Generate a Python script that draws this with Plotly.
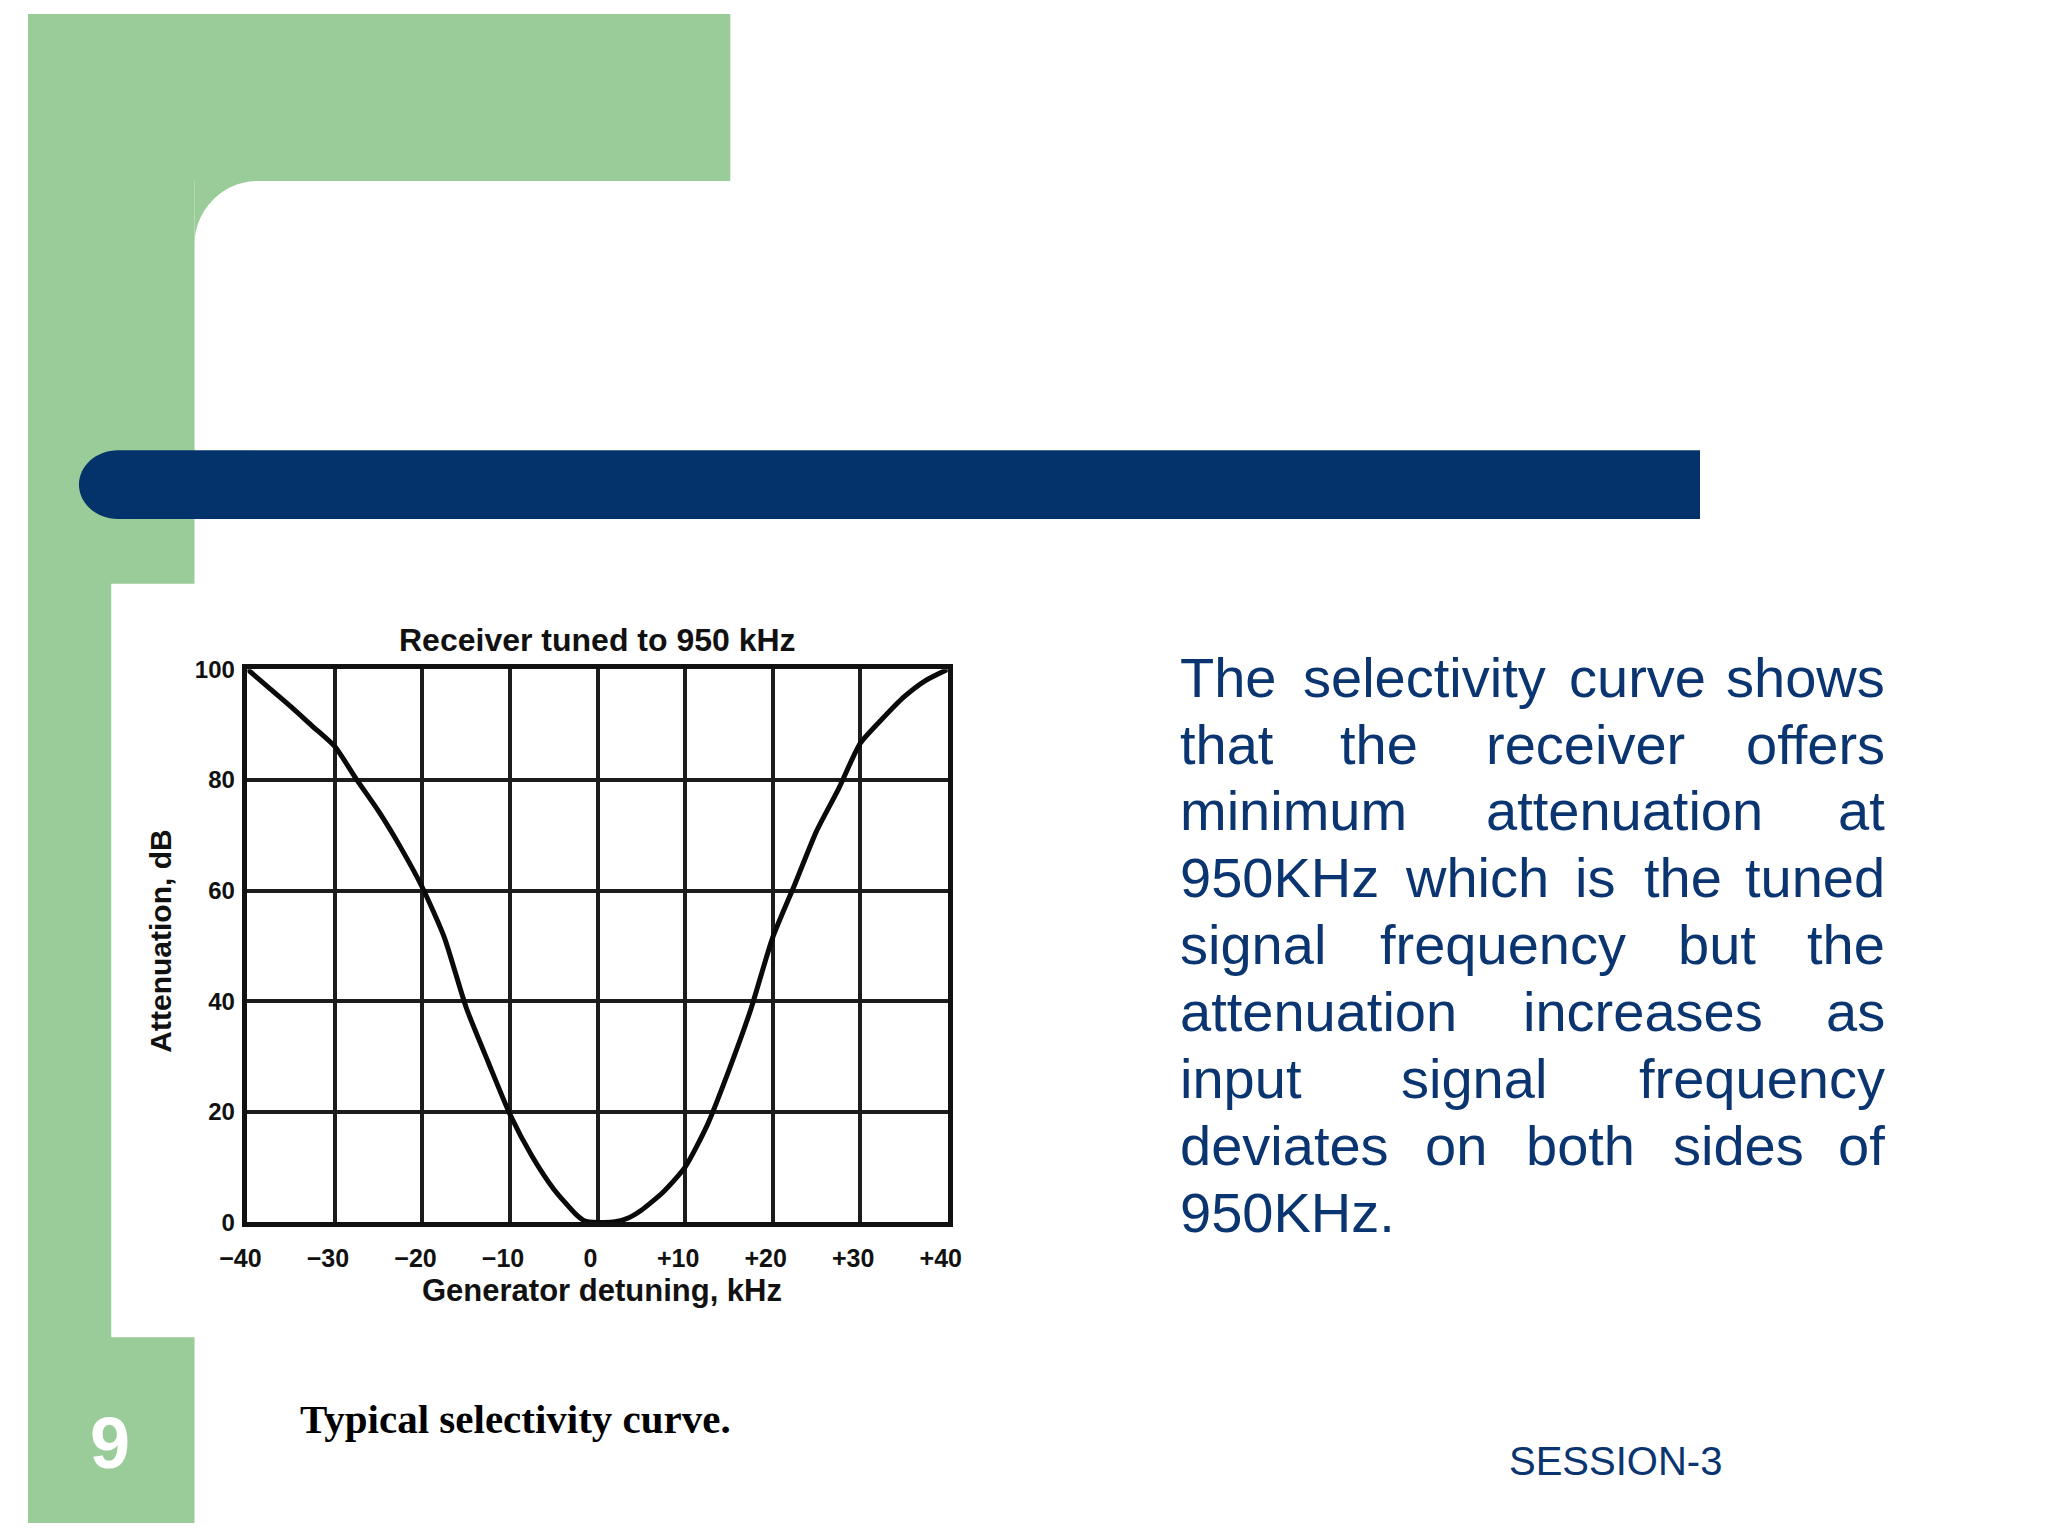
import plotly.graph_objects as go

W, H = 2048, 1536

# ---------------- data ----------------
detuning_khz = [-40, -37.5, -35, -32.5, -30, -27.5, -25, -22.5, -20, -17.5, -15, -12.5,
                -10, -7.5, -5, -2.5, -1.5, 0, 2, 3.5, 5, 7.5, 10, 12.5, 15, 17.5, 20,
                22.5, 25, 27.5, 30, 32.5, 35, 37.5, 40]
attenuation_db = [100, 96.6, 93.2, 89.6, 86, 80, 74.3, 67.8, 60.5, 51.5, 38.8, 29, 19.5,
                  12, 6, 1.5, 0.3, 0, 0.1, 0.8, 2.2, 5.5, 10, 17.5, 27.5, 38.5, 51.5,
                  61, 70.7, 78.3, 86.6, 91, 95, 98, 100]
x_tick_vals = [-40, -30, -20, -10, 0, 10, 20, 30, 40]
x_tick_text = ["\u221240", "\u221230", "\u221220", "\u221210", "0", "+10", "+20", "+30", "+40"]
y_tick_vals = [0, 20, 40, 60, 80, 100]
y_tick_text = ["0", "20", "40", "60", "80", "100"]

chart_title = "Receiver tuned to 950 kHz"
x_title = "Generator detuning, kHz"
y_title = "Attenuation, dB"
caption = "Typical selectivity curve."
paragraph_lines = [
    "The selectivity curve shows",
    "that the receiver offers",
    "minimum attenuation at",
    "950KHz which is the tuned",
    "signal frequency but the",
    "attenuation increases as",
    "input signal frequency",
    "deviates on both sides of",
    "950KHz.",
]
slide_number = "9"
footer_text = "SESSION-3"

# ---------------- styling ----------------
GREEN = "#99CC99"
NAVY = "#04326A"
TEXT_NAVY = "#0A3570"
SANS = "Liberation Sans, Arial, sans-serif"
SERIF = "Liberation Serif, Times New Roman, serif"


def px(x):
    return x / W


def py(y):
    return 1 - y / H


def P(x, y):
    return f"{px(x):.6f},{py(y):.6f}"


shapes = []
shapes.append(dict(type="rect", xref="paper", yref="paper", x0=px(0), x1=px(717),
                   y0=py(170), y1=py(0), fillcolor=GREEN, line_width=0, layer="below"))
shapes.append(dict(type="rect", xref="paper", yref="paper", x0=px(0), x1=px(170),
                   y0=py(1536), y1=py(0), fillcolor=GREEN, line_width=0, layer="below"))
r = 65
k = 0.5523 * r
corner = (f"M {P(170,170)} L {P(170+r,170)} "
          f"C {P(170+r-k,170)} {P(170,170+r-k)} {P(170,170+r)} Z")
shapes.append(dict(type="path", xref="paper", yref="paper", path=corner,
                   fillcolor=GREEN, line_width=0, layer="below"))
shapes.append(dict(type="rect", xref="paper", yref="paper", x0=px(85), x1=px(171),
                   y0=py(1347), y1=py(580), fillcolor="white", line_width=0, layer="below"))
top, bot, left, right = 444, 514, 52, 1707
rx, ry = 40, (bot - top) / 2
midy = (top + bot) / 2
kx, ky = 0.5523 * rx, 0.5523 * ry
bar = (f"M {P(left+rx, top)} L {P(right, top)} L {P(right, bot)} L {P(left+rx, bot)} "
       f"C {P(left+rx-kx, bot)} {P(left, midy+ky)} {P(left, midy)} "
       f"C {P(left, midy-ky)} {P(left+rx-kx, top)} {P(left+rx, top)} Z")
shapes.append(dict(type="path", xref="paper", yref="paper", path=bar,
                   fillcolor=NAVY, line_width=0, layer="below"))

annotations = []


def add_text(text, x, y, size, color="black", family=SANS, weight="normal",
             xanchor="center", yanchor="middle", angle=0):
    annotations.append(dict(text=text, x=px(x), y=py(y), xref="paper", yref="paper",
                            showarrow=False, xanchor=xanchor, yanchor=yanchor,
                            textangle=angle, borderpad=0,
                            font=dict(family=family, size=size, color=color, weight=weight)))


add_text(chart_title, 581, 637, 32, color="#111", weight="bold")
add_text(x_title, 586, 1299, 31, color="#111", weight="bold")
add_text(y_title, 135, 944, 30, color="#111", weight="bold", angle=-90)
add_text(caption, 498, 1430, 41, color="black", family=SERIF, weight="bold")
add_text(slide_number, 84, 1455, 72, color="white", weight="bold")
add_text(footer_text, 1621, 1473, 40, color=TEXT_NAVY)

AW = {
    'a': .556, 'b': .556, 'c': .5, 'd': .556, 'e': .556, 'f': .278, 'g': .556, 'h': .556,
    'i': .222, 'j': .222, 'k': .5, 'l': .222, 'm': .833, 'n': .556, 'o': .556, 'p': .556,
    'q': .556, 'r': .333, 's': .5, 't': .278, 'u': .556, 'v': .5, 'w': .722, 'x': .5,
    'y': .5, 'z': .5, 'T': .611, 'K': .667, 'H': .722, '.': .278, ',': .278, ' ': .278,
}
FS = 56
L_EDGE, R_EDGE = 1175, 1897
LINE0, LSTEP = 675, 68.1


def tw(s):
    return sum(AW.get(c, .556) for c in s) * FS


for i, line in enumerate(paragraph_lines):
    yc = LINE0 + i * LSTEP
    words = line.split()
    if i == len(paragraph_lines) - 1 or len(words) == 1:
        add_text(line, L_EDGE, yc, FS, color=TEXT_NAVY, xanchor="left")
        continue
    widths = [tw(w) for w in words]
    gap = (R_EDGE - L_EDGE - sum(widths)) / (len(words) - 1)
    x = L_EDGE
    for j, w in enumerate(words):
        if j == len(words) - 1:
            add_text(w, R_EDGE, yc, FS, color=TEXT_NAVY, xanchor="right")
        else:
            add_text(w, x, yc, FS, color=TEXT_NAVY, xanchor="left")
        x += widths[j] + gap

fig = go.Figure()
fig.add_trace(go.Scatter(x=detuning_khz, y=attenuation_db, mode="lines",
                         line=dict(color="#0a0a0a", width=5, shape="spline", smoothing=0.6),
                         hoverinfo="skip", showlegend=False))

GRID = "#1c1c1c"
fig.update_layout(
    width=W, height=H,
    margin=dict(l=0, r=0, t=0, b=0),
    paper_bgcolor="white", plot_bgcolor="white",
    showlegend=False,
    shapes=shapes,
    annotations=annotations,
    xaxis=dict(domain=[px(224), px(939)], range=[-40, 40], tickvals=x_tick_vals,
               ticktext=x_tick_text, showgrid=True, gridcolor=GRID, gridwidth=3.5,
               zeroline=False, showline=True, linecolor="#111", linewidth=4.5, mirror=True,
               ticks="", ticklabelstandoff=10, ticklabelshift=-7,
               tickfont=dict(family=SANS, size=25, color="#111", weight="bold"),
               fixedrange=True),
    yaxis=dict(domain=[py(1230), py(667)], range=[0, 100], tickvals=y_tick_vals,
               ticktext=y_tick_text, showgrid=True, gridcolor=GRID, gridwidth=3.5,
               zeroline=False, showline=True, linecolor="#111", linewidth=4.5, mirror=True,
               ticks="", ticklabelstandoff=3,
               tickfont=dict(family=SANS, size=24, color="#111", weight="bold"),
               fixedrange=True),
)

fig.write_html("out.html", config={"displayModeBar": False},
               post_script="document.body.style.margin='0';document.body.style.overflow='hidden';")
